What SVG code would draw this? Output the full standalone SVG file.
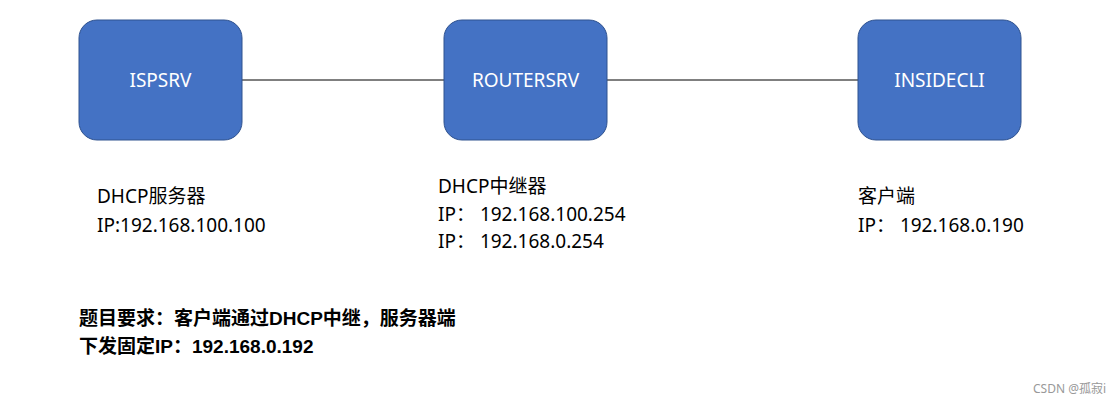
<svg xmlns="http://www.w3.org/2000/svg" width="1112" height="406" viewBox="0 0 1112 406">
<style>
.n{fill:#4472C4;stroke:#2F528F;stroke-width:1}
.nt{font-family:"Noto Sans","Noto Sans CJK SC",sans-serif;font-size:19px;fill:#fff;text-anchor:middle}
.t{font-family:"Noto Sans","Noto Sans CJK SC",sans-serif;font-size:19px;fill:#000}
.b{font-family:"Liberation Sans","Noto Sans CJK SC",sans-serif;font-size:19px;font-weight:bold;fill:#000}
.c{stroke:#000;stroke-width:1}
</style>
<rect width="1112" height="406" fill="#fff"/>
<g id="connectors">
<line class="c" x1="242" y1="80" x2="444" y2="80"/>
<line class="c" x1="607" y1="80" x2="858" y2="80"/>
</g>
<g id="ispsrv"><rect class="n" x="79" y="20" width="163" height="120" rx="18"/><text class="nt" x="160.5" y="87">ISPSRV</text></g>
<g id="routersrv"><rect class="n" x="444" y="20" width="163" height="120" rx="18"/><text class="nt" x="525.5" y="87">ROUTERSRV</text></g>
<g id="insidecli"><rect class="n" x="858" y="20" width="163" height="120" rx="18"/><text class="nt" x="939.5" y="87">INSIDECLI</text></g>
<g id="labels">
<text class="t" x="97" y="203">DHCP服务器</text>
<text class="t" x="97" y="232">IP:192.168.100.100</text>
<text class="t" x="438" y="193">DHCP中继器</text>
<text class="t" x="438" y="221">IP：  192.168.100.254</text>
<text class="t" x="438" y="248">IP：  192.168.0.254</text>
<text class="t" x="858" y="203">客户端</text>
<text class="t" x="858" y="232">IP：  192.168.0.190</text>
<text class="b" x="79" y="325">题目要求：客户端通过DHCP中继，服务器端</text>
<text class="b" x="79" y="353">下发固定IP：192.168.0.192</text>
<text x="1033" y="393" font-family="'Noto Sans','Noto Sans CJK SC',sans-serif" font-size="12" fill="#999">CSDN @孤寂i</text>
</g>
</svg>
